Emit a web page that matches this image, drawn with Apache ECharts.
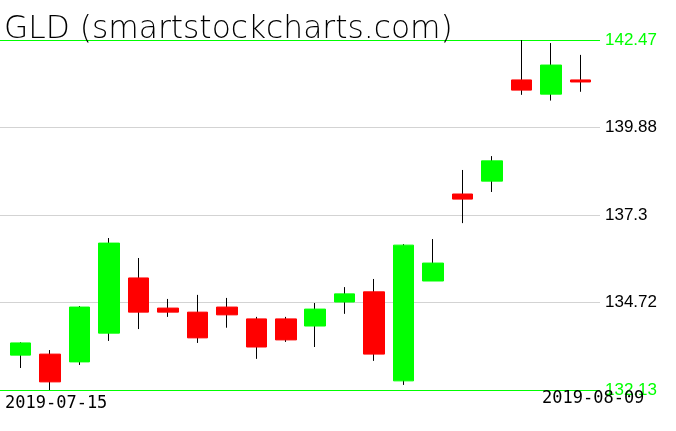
<!DOCTYPE html>
<html>
<head>
<meta charset="utf-8">
<script src="https://cdn.jsdelivr.net/npm/echarts@6/dist/echarts.min.js"></script>
<style>
html,body{margin:0;padding:0;background:#fff;}
#c{width:676px;height:431px;}
</style>
</head>
<body>
<div id="c"></div>
<script>
const titleText = 'GLD (smartstockcharts.com)';
const dates = ['2019-07-15','2019-07-16','2019-07-17','2019-07-18','2019-07-19',
  '2019-07-22','2019-07-23','2019-07-24','2019-07-25','2019-07-26',
  '2019-07-29','2019-07-30','2019-07-31','2019-08-01','2019-08-02',
  '2019-08-05','2019-08-06','2019-08-07','2019-08-08','2019-08-09'];
const openV  = [133.16,133.19,132.96,133.81,135.44,134.55,134.43,134.58,134.23,134.23,
                134.02,134.73,135.03,132.40,135.35,137.92,138.30,141.29,140.87,141.29];
const closeV = [133.52,132.37,134.58,136.47,134.43,134.43,133.67,134.35,133.40,133.61,
                134.52,134.97,133.19,136.41,135.88,137.77,138.90,140.99,141.73,141.23];
const lowV   = [132.78,132.13,132.87,133.58,133.93,134.29,133.52,133.97,133.05,133.55,
                133.40,134.38,132.99,132.28,135.35,137.06,137.98,140.85,140.68,140.94];
const highV  = [133.54,133.31,134.61,136.62,136.03,134.82,134.94,134.85,134.29,134.29,
                134.70,135.17,135.41,136.44,136.59,138.63,139.04,142.47,142.38,142.03];
const yTickLabels = ['132.13','134.72','137.3','139.88','142.47'];
const yMin = 132.13, yMax = 142.47;
const xEndLabels = [dates[0], dates[dates.length - 1]];

const GREEN = '#00ff00', RED = '#ff0000';

const wickData = dates.map((d, i) => [openV[i], closeV[i], lowV[i], highV[i]]);
const bodyData = dates.map((d, i) => [openV[i], closeV[i],
  Math.min(openV[i], closeV[i]), Math.max(openV[i], closeV[i])]);

const chart = echarts.init(document.getElementById('c'), null, {renderer: 'canvas'});
const gridTop = 40, gridH = 350;
chart.setOption({
  animation: false,
  backgroundColor: '#ffffff',
  title: {
    text: titleText,
    left: -1, top: 8,
    textStyle: {fontFamily: 'DejaVu Sans', fontWeight: 200, fontSize: 31.3, color: '#000', lineHeight: 34}
  },
  grid: [
    {left: 0, width: 600, top: gridTop, height: gridH},
    {left: 5.8, width: 589.4, top: gridTop, height: gridH},
    {left: 5, width: 537, top: gridTop, height: gridH}
  ],
  xAxis: [
    {gridIndex: 0, type: 'category', data: dates, show: false},
    {gridIndex: 1, type: 'category', data: dates, boundaryGap: true, show: false},
    {gridIndex: 2, type: 'category', data: xEndLabels, boundaryGap: false,
     axisLine: {show: false}, axisTick: {show: false}, splitLine: {show: false},
     axisLabel: {
       show: true, align: 'left', margin: 0, interval: 0,
       fontFamily: 'DejaVu Sans Mono', fontSize: 17, color: '#000',
       formatter: (v, i) => i === 0 ? '{a|' + v + '}' : '{b|' + v + '}',
       rich: {
         a: {fontFamily: 'DejaVu Sans Mono', fontSize: 17, color: '#000', padding: [5, 0, 0, 0]},
         b: {fontFamily: 'DejaVu Sans Mono', fontSize: 17, color: '#000', padding: [0, 0, 0, 0]}
       }
     }}
  ],
  yAxis: [
    {gridIndex: 0, type: 'value', position: 'right', min: yMin, max: yMax, interval: (yMax - yMin) / 4,
     axisLine: {show: false}, axisTick: {show: false},
     splitLine: {show: true, lineStyle: {width: 1, color: [GREEN, '#d3d3d3', '#d3d3d3', '#d3d3d3', GREEN]}},
     axisLabel: {
       show: true, inside: false, margin: 5, align: 'left', verticalAlign: 'middle',
       fontFamily: 'Liberation Sans', fontSize: 17, lineHeight: 17, padding: [0, 0, 9, 0],
       color: (v) => (Math.abs(v - yMin) < 1e-6 || Math.abs(v - yMax) < 1e-6) ? GREEN : '#000',
       formatter: (v, i) => yTickLabels[i]
     }},
    {gridIndex: 1, type: 'value', min: yMin, max: yMax, show: false, splitLine: {show: false}},
    {gridIndex: 2, type: 'value', min: yMin, max: yMax, show: false, splitLine: {show: false}}
  ],
  series: [
    {
      type: 'candlestick', xAxisIndex: 1, yAxisIndex: 1, data: wickData,
      barWidth: 1,
      itemStyle: {color: '#000', color0: '#000', borderColor: '#000', borderColor0: '#000', borderWidth: 1},
      emphasis: {disabled: true}
    },
    {
      type: 'candlestick', xAxisIndex: 1, yAxisIndex: 1, data: bodyData,
      barWidth: 21,
      itemStyle: {color: GREEN, color0: RED, borderColor: GREEN, borderColor0: RED, borderWidth: 1},
      emphasis: {disabled: true}
    }
  ]
});
</script>
</body>
</html>
